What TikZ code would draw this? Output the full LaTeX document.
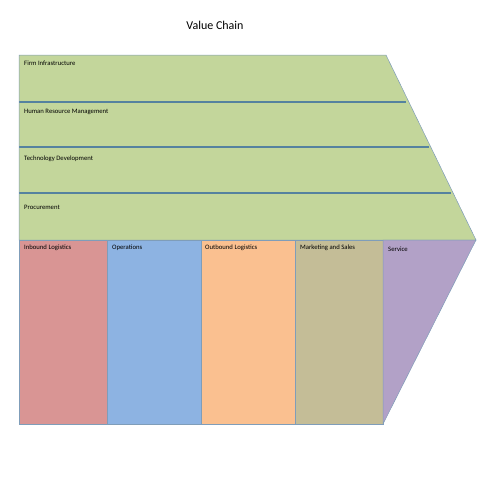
\documentclass[tikz,border=0pt]{standalone}
\usepackage{fontspec}
\setmainfont{Carlito}
\definecolor{bandgreen}{HTML}{C3D69B}
\definecolor{inboundred}{HTML}{D99594}
\definecolor{opsblue}{HTML}{8DB3E2}
\definecolor{outorange}{HTML}{FAC090}
\definecolor{salestan}{HTML}{C4BD97}
\definecolor{servpurple}{HTML}{B2A1C7}
\definecolor{rimblue}{HTML}{7F9DB9}
\definecolor{sepblue}{HTML}{55829F}

\begin{document}
\begin{tikzpicture}[x=1pt,y=-1pt,
  lbl/.style={anchor=north west,inner sep=0pt,font=\fontsize{6.7}{7.5}\selectfont},
  panel/.style={draw=rimblue,line width=0.5pt},
  sep/.style={draw=sepblue,line width=1.8pt}]
\useasboundingbox (0,0) rectangle (480,480);

\node (title) at (215,25) {\fontsize{12}{14}\selectfont Value Chain};

% support activities
\fill[bandgreen] (19,55) -- (386,55) -- (476,240) -- (19,240) -- cycle;
\draw[sep] (19,102) -- (406,102);
\draw[sep] (19,147) -- (429,147);
\draw[sep] (19,193) -- (451,193);
\draw[panel] (19,55) -- (386,55) -- (476,240) -- (19,240) -- cycle;

\node[lbl] (firm) at (24,61) {Firm Infrastructure};
\node[lbl] (hrm) at (24,109) {Human Resource Management};
\node[lbl] (tech) at (24,156) {Technology Development};
\node[lbl] (proc) at (24,205) {Procurement};

% primary activities
\filldraw[panel,fill=inboundred] (19,240) rectangle (107,424);
\filldraw[panel,fill=opsblue] (107,240) rectangle (201,424);
\filldraw[panel,fill=outorange] (201,240) rectangle (295,424);
\filldraw[panel,fill=salestan] (295,240) rectangle (383,424);
\filldraw[panel,fill=servpurple] (383,240) -- (476,240) -- (383,424) -- cycle;

\node[lbl] (inb) at (24,245) {Inbound Logistics};
\node[lbl] (ops) at (112,245) {Operations};
\node[lbl] (outb) at (205,245) {Outbound Logistics};
\node[lbl] (mkt) at (300,245) {Marketing and Sales};
\node[lbl] (serv) at (388,247) {Service};
\end{tikzpicture}
\end{document}
